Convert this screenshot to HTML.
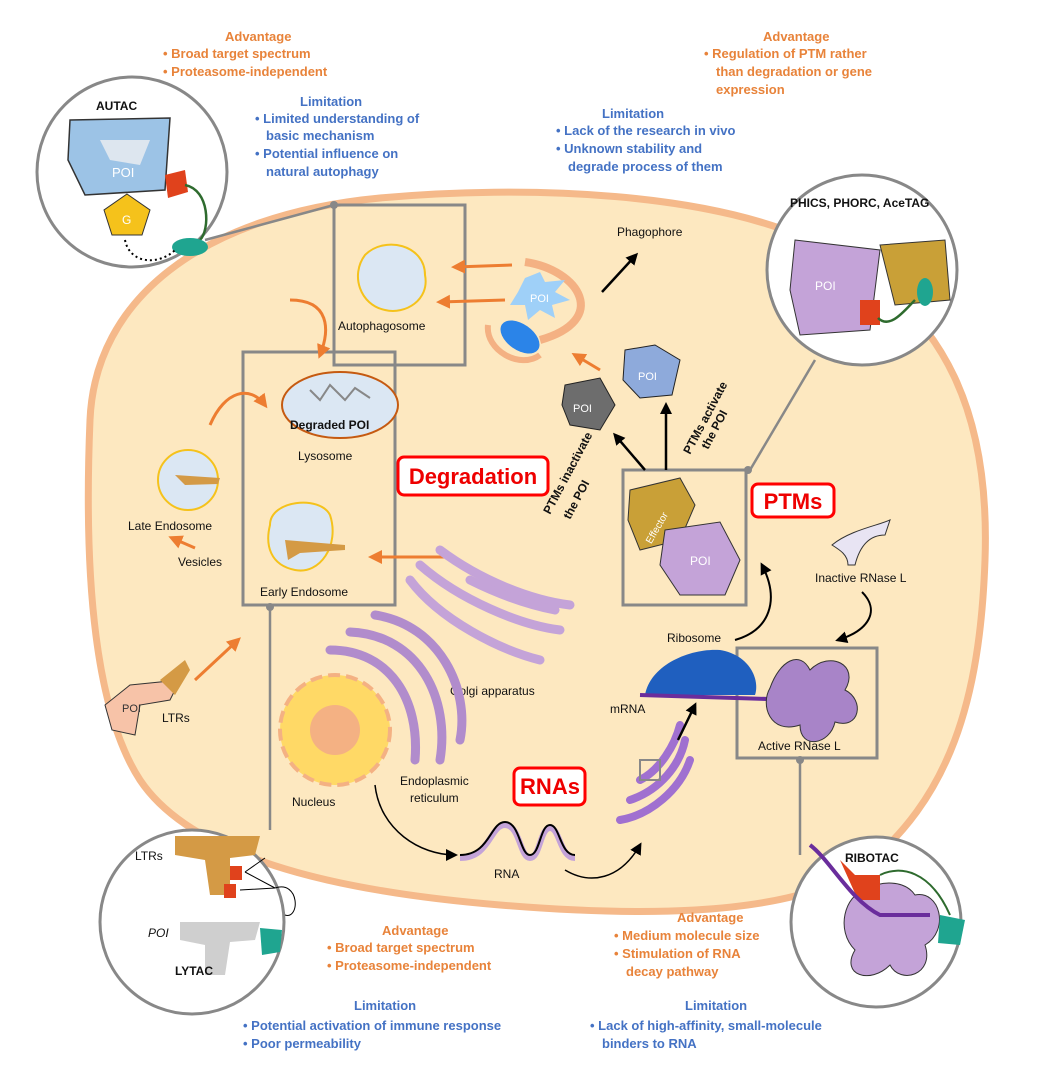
<!DOCTYPE html>
<html><head><meta charset="utf-8"><style>
body{margin:0;background:#fff}
svg{display:block}
text{font-family:"Liberation Sans",Arial,sans-serif}
.o{fill:#e8833a;font-weight:bold;font-size:13px}
.b{fill:#4472c4;font-weight:bold;font-size:13px}
.t{fill:#111;font-size:12px}
.tb{fill:#111;font-size:12px;font-weight:bold}
</style></head><body>
<svg width="1047" height="1074" viewBox="0 0 1047 1074" xmlns="http://www.w3.org/2000/svg">
<defs>
<marker id="ao" markerUnits="userSpaceOnUse" markerWidth="16" markerHeight="16" refX="10" refY="8" orient="auto"><path d="M0,1L14,8L0,15z" fill="#ed7d31"/></marker>
<marker id="ak" markerUnits="userSpaceOnUse" markerWidth="14" markerHeight="14" refX="9" refY="7" orient="auto"><path d="M0,1L12,7L0,13z" fill="#000"/></marker>
</defs>
<!-- cell -->
<path d="M90,420 C95,300 200,215 380,198 C520,185 720,190 830,250 C950,315 990,420 985,560 C980,700 950,800 860,870 C780,920 620,915 500,905 C380,895 200,870 140,780 C88,700 85,540 90,420Z" fill="#fde8c0" stroke="#f5b98a" stroke-width="7"/>

<!-- top-left texts -->
<text class="o" x="225" y="41">Advantage</text>
<text class="o" x="163" y="58">•  Broad target spectrum</text>
<text class="o" x="163" y="76">•  Proteasome-independent</text>
<text class="b" x="300" y="106">Limitation</text>
<text class="b" x="255" y="123">•  Limited understanding of</text>
<text class="b" x="266" y="140">basic mechanism</text>
<text class="b" x="255" y="158">•  Potential influence on</text>
<text class="b" x="266" y="176">natural autophagy</text>
<!-- top-right -->
<text class="o" x="763" y="41">Advantage</text>
<text class="o" x="704" y="58">•  Regulation of PTM rather</text>
<text class="o" x="716" y="76">than degradation or gene</text>
<text class="o" x="716" y="94">expression</text>
<text class="b" x="602" y="118">Limitation</text>
<text class="b" x="556" y="135">•  Lack of the research in vivo</text>
<text class="b" x="556" y="153">•  Unknown stability and</text>
<text class="b" x="568" y="171">degrade process of them</text>
<!-- bottom -->
<text class="o" x="382" y="935">Advantage</text>
<text class="o" x="327" y="952">•  Broad target spectrum</text>
<text class="o" x="327" y="970">•  Proteasome-independent</text>
<text class="b" x="354" y="1010">Limitation</text>
<text class="b" x="243" y="1030">•  Potential activation of  immune response</text>
<text class="b" x="243" y="1048">•  Poor permeability</text>
<text class="o" x="677" y="922">Advantage</text>
<text class="o" x="614" y="940">•  Medium molecule size</text>
<text class="o" x="614" y="958">•  Stimulation of RNA</text>
<text class="o" x="626" y="976">decay pathway</text>
<text class="b" x="685" y="1010">Limitation</text>
<text class="b" x="590" y="1030">•  Lack of  high-affinity, small-molecule</text>
<text class="b" x="602" y="1048">binders to RNA</text>

<!-- connectors -->
<g stroke="#888" stroke-width="2.5" fill="none">
<line x1="205" y1="240" x2="334" y2="205"/>
<line x1="750" y1="470" x2="815" y2="360"/>
<line x1="270" y1="605" x2="270" y2="830"/>
<line x1="800" y1="758" x2="800" y2="855"/>
</g>
<g fill="#888"><circle cx="334" cy="205" r="4"/><circle cx="748" cy="470" r="4"/><circle cx="270" cy="607" r="4"/><circle cx="800" cy="760" r="4"/></g>

<!-- circles -->
<circle cx="132" cy="172" r="95" fill="#fff" stroke="#888" stroke-width="3"/>
<circle cx="862" cy="270" r="95" fill="#fff" stroke="#888" stroke-width="3"/>
<circle cx="192" cy="922" r="92" fill="#fff" stroke="#888" stroke-width="3"/>
<circle cx="876" cy="922" r="85" fill="#fff" stroke="#888" stroke-width="3"/>

<!-- AUTAC -->
<text class="tb" x="96" y="110">AUTAC</text>
<path d="M70,120 L170,118 L165,190 L85,195 L68,160Z" fill="#9cc3e6" stroke="#333" stroke-width="1.5"/>
<path d="M100,140 L150,140 L140,165 L110,160Z" fill="#dde6ef"/>
<text x="112" y="177" font-size="13" fill="#fff">POI</text>
<path d="M165,175 L185,170 L188,192 L168,198Z" fill="#e0421c"/>
<path d="M185,185 C210,190 210,230 200,240" stroke="#2e6b2e" stroke-width="2.5" fill="none"/>
<ellipse cx="190" cy="247" rx="18" ry="9" fill="#1fa590"/>
<path d="M127,194 L150,210 L142,235 L112,235 L104,210Z" fill="#f5c21b" stroke="#333"/>
<text x="122" y="224" font-size="12" fill="#fff">G</text>
<path d="M125,240 C130,265 160,265 175,250" stroke="#000" stroke-dasharray="2,3" stroke-width="2" fill="none"/>

<!-- PHICS -->
<text class="tb" x="790" y="207">PHICS, PHORC, AceTAG</text>
<path d="M795,240 L880,250 L870,330 L800,335 L790,290Z" fill="#c4a3d8" stroke="#333"/>
<text x="815" y="290" font-size="12" fill="#fff">POI</text>
<path d="M880,245 L945,240 L950,300 L895,305Z" fill="#c9a037" stroke="#333"/>
<path d="M860,300 L880,300 L880,325 L860,325Z" fill="#e0421c"/>
<ellipse cx="925" cy="292" rx="8" ry="14" fill="#1fa590"/>
<path d="M878,318 C890,330 905,310 915,300" stroke="#2e6b2e" stroke-width="2.5" fill="none"/>

<!-- LYTAC -->
<text class="t" x="135" y="860">LTRs</text>
<path d="M175,836 L260,836 L255,855 L230,858 L230,895 L210,895 L205,860 L175,855Z" fill="#d49a45"/>
<rect x="230" y="866" width="12" height="14" fill="#e0421c"/><rect x="224" y="884" width="12" height="14" fill="#e0421c"/>
<path d="M245,872 L275,888 M245,872 L265,858 M240,890 L275,888 M275,888 C300,880 300,920 285,915" stroke="#000" fill="none"/>
<text x="148" y="937" font-size="12" font-style="italic" fill="#111">POI</text>
<path d="M180,922 L260,922 L255,940 L230,942 L225,975 L205,975 L205,945 L180,940Z" fill="#cfcfcf"/>
<path d="M260,928 L282,930 L280,952 L262,955Z" fill="#1fa590"/>
<text class="tb" x="175" y="975">LYTAC</text>

<!-- RIBOTAC -->
<text class="tb" x="845" y="862">RIBOTAC</text>
<path d="M865,890 C880,880 905,880 915,895 C940,890 950,930 925,945 C935,975 900,985 890,965 C870,985 840,975 855,950 C835,930 845,895 865,890Z" fill="#c4a3d8" stroke="#333"/>
<path d="M840,860 L855,875 L880,875 L880,900 L858,900Z" fill="#e0421c"/>
<path d="M810,845 C830,860 850,900 880,915 L930,915" stroke="#6a2d9c" stroke-width="4" fill="none"/>
<path d="M940,915 L965,920 L960,945 L938,943Z" fill="#1fa590"/>
<path d="M880,875 C900,865 930,870 950,915" stroke="#2e6b2e" stroke-width="2" fill="none"/>

<!-- boxes -->
<g fill="none" stroke="#888" stroke-width="3">
<rect x="334" y="205" width="131" height="160"/>
<rect x="243" y="352" width="152" height="253"/>
<rect x="623" y="470" width="123" height="135"/>
<rect x="737" y="648" width="140" height="110"/>
</g>

<!-- autophagosome -->
<path d="M365,255 C385,235 425,245 425,275 C430,300 405,315 385,310 C360,305 350,275 365,255Z" fill="#dbe7f3" stroke="#f5c21b" stroke-width="2"/>
<text class="t" x="338" y="330">Autophagosome</text>
<ellipse cx="340" cy="405" rx="58" ry="33" fill="#dbe7f3" stroke="#c55a11" stroke-width="2"/>
<path d="M310,390 L320,400 L330,385 L345,400 L355,388 L370,398" stroke="#888" fill="none" stroke-width="2"/>
<text class="tb" x="290" y="429" font-size="13">Degraded POI</text>
<text class="t" x="298" y="460">Lysosome</text>
<!-- early endosome -->
<path d="M270,525 C270,500 320,495 330,515 C340,545 320,575 295,570 C270,565 265,545 270,525Z" fill="#dbe7f3" stroke="#f5c21b" stroke-width="2"/>
<path d="M285,540 L345,545 L345,550 L300,553 L288,560Z" fill="#d49a45"/>
<text class="t" x="260" y="596">Early Endosome</text>
<!-- late endosome -->
<ellipse cx="188" cy="480" rx="30" ry="30" fill="#dbe7f3" stroke="#f5c21b" stroke-width="2"/>
<path d="M175,475 L220,478 L218,484 L185,485Z" fill="#d49a45"/>
<text class="t" x="128" y="530">Late Endosome</text>
<text class="t" x="178" y="566">Vesicles</text>
<!-- LTR outside -->
<path d="M130,685 L180,680 L170,700 L140,705 L135,735 L112,730 L105,705Z" fill="#f7c3a8" stroke="#333"/>
<path d="M160,680 L185,660 L190,670 L175,695Z" fill="#d49a45"/>
<text x="122" y="712" font-size="11" fill="#333">POI</text>
<text class="t" x="162" y="722">LTRs</text>

<!-- orange arrows -->
<g stroke="#ed7d31" stroke-width="3" fill="none" marker-end="url(#ao)">
<line x1="195" y1="680" x2="238" y2="640"/>
<line x1="195" y1="548" x2="172" y2="538"/>
<line x1="455" y1="557" x2="372" y2="557"/>
<line x1="512" y1="265" x2="455" y2="267"/>
<line x1="505" y1="300" x2="440" y2="302"/>
<line x1="600" y1="370" x2="575" y2="355"/>
<path d="M210,425 C225,390 250,385 265,405"/>
<path d="M290,300 C330,300 330,330 320,355"/>
</g>
<!-- phagophore stuff -->
<path d="M525,262 C580,270 610,320 540,340" stroke="#f4b183" stroke-width="8" fill="none"/>
<path d="M488,325 C485,350 520,370 540,355" stroke="#f4b183" stroke-width="6" fill="none"/>
<path d="M525,278 L540,272 L545,282 L565,280 L555,292 L570,300 L552,305 L555,318 L540,310 L528,320 L525,305 L510,305 L518,292Z" fill="#9fd0f8"/>
<text x="530" y="302" font-size="11" fill="#fff">POI</text>
<ellipse cx="520" cy="337" rx="22" ry="13" transform="rotate(35 520 337)" fill="#2b84e8"/>
<line x1="602" y1="292" x2="636" y2="255" stroke="#000" stroke-width="2.5" marker-end="url(#ak)"/>
<text class="t" x="617" y="236">Phagophore</text>
<!-- POIs -->
<path d="M565,385 L600,378 L615,405 L600,430 L570,425 L562,405Z" fill="#6d6d6d" stroke="#222"/>
<text x="573" y="412" font-size="11" fill="#fff">POI</text>
<path d="M625,350 L655,345 L680,360 L672,395 L640,398 L623,380Z" fill="#8eaadb" stroke="#222"/>
<text x="638" y="380" font-size="11" fill="#fff">POI</text>
<g stroke="#000" stroke-width="2.5" marker-end="url(#ak)">
<line x1="645" y1="470" x2="615" y2="435"/>
<line x1="666" y1="470" x2="666" y2="405"/>
</g>
<text class="tb" transform="translate(550,515) rotate(-62)">PTMs inactivate</text>
<text class="tb" transform="translate(570,520) rotate(-62)">the POI</text>
<text class="tb" transform="translate(690,455) rotate(-62)">PTMs activate</text>
<text class="tb" transform="translate(708,450) rotate(-62)">the POI</text>

<!-- PTM box content -->
<path d="M630,490 L680,478 L695,505 L680,540 L640,550 L628,520Z" fill="#c9a037" stroke="#333"/>
<text x="640" y="545" font-size="10" fill="#fff" transform="rotate(-60 645 535)">Effector</text>
<path d="M665,530 L720,522 L740,560 L725,595 L680,595 L660,565Z" fill="#c4a3d8" stroke="#333"/>
<text x="690" y="565" font-size="12" fill="#fff">POI</text>

<!-- labels -->
<rect x="398" y="457" width="150" height="38" rx="6" fill="#fff" stroke="#f00" stroke-width="3"/>
<text x="473" y="484" text-anchor="middle" font-size="22" font-weight="bold" fill="#e00">Degradation</text>
<rect x="752" y="484" width="82" height="33" rx="6" fill="#fff" stroke="#f00" stroke-width="3"/>
<text x="793" y="509" text-anchor="middle" font-size="22" font-weight="bold" fill="#e00">PTMs</text>
<rect x="514" y="768" width="71" height="37" rx="6" fill="#fff" stroke="#f00" stroke-width="3"/>
<text x="550" y="794" text-anchor="middle" font-size="22" font-weight="bold" fill="#e00">RNAs</text>

<!-- golgi -->
<g stroke="#c4a3d8" stroke-width="9" fill="none" stroke-linecap="round">
<path d="M410,580 C440,620 500,650 540,660"/>
<path d="M420,565 C460,600 520,625 560,630"/>
<path d="M440,550 C480,580 530,600 570,605"/>
<path d="M470,580 C500,595 530,605 555,610"/>
</g>
<text class="t" x="450" y="695">Golgi apparatus</text>
<!-- ER -->
<g stroke="#b18ccc" stroke-width="9" fill="none" stroke-linecap="round">
<path d="M330,650 C390,650 420,700 415,760"/>
<path d="M350,632 C420,635 450,700 440,760"/>
<path d="M375,615 C440,625 470,690 460,740"/>
</g>
<text class="t" x="400" y="785">Endoplasmic</text>
<text class="t" x="410" y="802">reticulum</text>
<circle cx="335" cy="730" r="55" fill="#ffd966" stroke="#f4b183" stroke-width="4" stroke-dasharray="12,6"/>
<circle cx="335" cy="730" r="25" fill="#f4b183"/>
<text class="t" x="292" y="806">Nucleus</text>
<!-- RNA -->
<path d="M375,785 C380,830 420,855 455,855" stroke="#000" stroke-width="1.5" fill="none" marker-end="url(#ak)"/>
<path d="M460,858 C490,858 490,825 505,825 C520,825 520,858 530,858 C540,858 540,828 550,828 C560,828 560,858 575,858" stroke="#c4a3d8" stroke-width="6" fill="none"/>
<path d="M460,855 C490,855 490,822 505,822 C520,822 520,855 530,855 C540,855 540,825 550,825 C560,825 560,855 575,855" stroke="#000" stroke-width="2" fill="none"/>
<text class="t" x="494" y="878">RNA</text>
<path d="M565,870 C590,885 620,880 640,845" stroke="#000" stroke-width="1.5" fill="none" marker-end="url(#ak)"/>
<!-- ribosome RNA stack -->
<g stroke="#a070d0" stroke-width="8" fill="none" stroke-linecap="round">
<path d="M620,820 C650,815 680,790 690,760"/>
<path d="M630,800 C660,790 680,765 685,740"/>
<path d="M640,780 C660,770 675,745 680,725"/>
</g>
<rect x="640" y="760" width="20" height="20" fill="none" stroke="#888" stroke-width="2"/>
<line x1="678" y1="740" x2="695" y2="705" stroke="#000" stroke-width="2.5" marker-end="url(#ak)"/>
<path d="M645,695 C650,665 690,648 720,650 C750,655 760,680 755,695Z" fill="#1f5fbf"/>
<path d="M640,695 L800,700" stroke="#6a2d9c" stroke-width="4"/>
<text class="t" x="667" y="642">Ribosome</text>
<text class="t" x="610" y="713">mRNA</text>
<!-- RNase L -->
<path d="M770,688 C780,660 800,650 810,670 C830,650 860,665 845,690 C865,700 860,730 835,722 C830,745 800,750 800,725 C770,735 760,705 770,688Z" fill="#a884c8" stroke="#333"/>
<text class="t" x="758" y="750">Active RNase L</text>
<path d="M832,545 C850,530 880,525 890,520 L885,535 C870,535 860,545 855,565 L848,565 C848,555 840,550 832,545Z" fill="#e8e4f3" stroke="#333"/>
<text class="t" x="815" y="582">Inactive RNase L</text>
<path d="M862,592 C880,610 870,630 838,640" stroke="#000" stroke-width="2" fill="none" marker-end="url(#ak)"/>
<path d="M735,640 C770,630 780,600 762,565" stroke="#000" stroke-width="2" fill="none" marker-end="url(#ak)"/>
</svg>
</body></html>
